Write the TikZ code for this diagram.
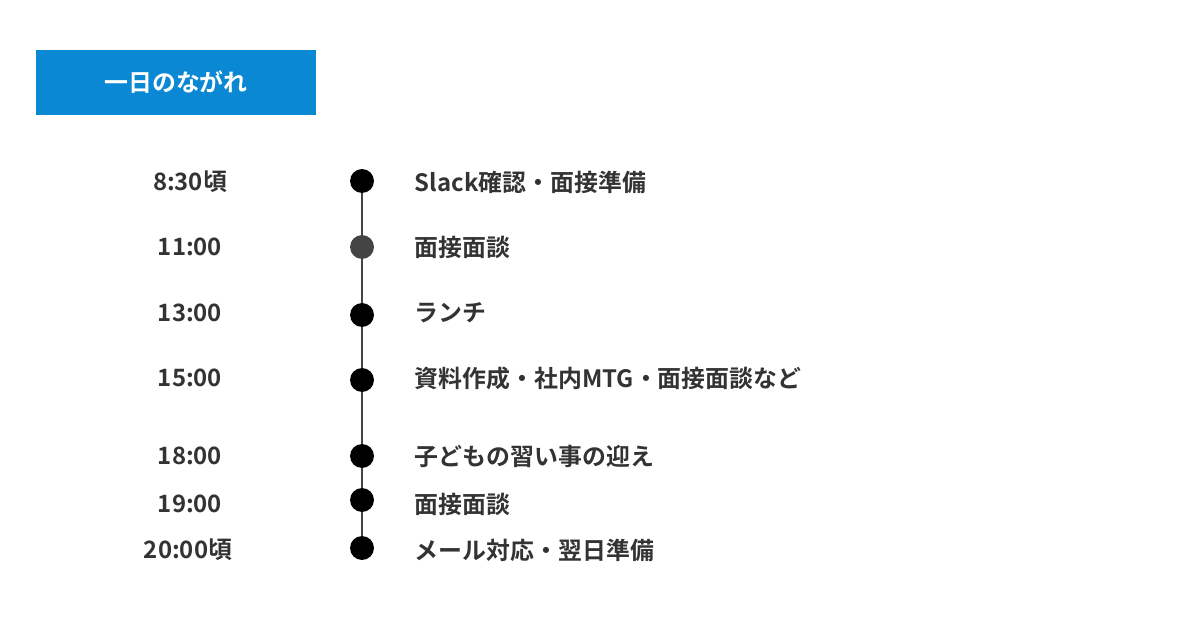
\documentclass[tikz,border=0pt]{standalone}
\usepackage{fontspec}
\setmainfont{Noto Sans CJK JP}[BoldFont={* Bold}]
\usepackage{tikz}
\usetikzlibrary{arrows}
\definecolor{headblue}{HTML}{0A88D4}
\definecolor{ink}{HTML}{333333}
\definecolor{dotgray}{HTML}{444444}
\tikzset{
	time/.style={text=ink, font=\fontsize{17}{20}\selectfont\bfseries},
	task/.style={text=ink, anchor=west, font=\fontsize{17}{20}\selectfont\bfseries},
	dot/.style={circle, fill=black, minimum size=17pt, inner sep=0pt}
}
\begin{document}
\begin{tikzpicture}[x=0.025cm, y=-0.025cm]
		\useasboundingbox (0,0) rectangle (1200,628);
		\node (head) [fill=headblue, text=white, minimum width=280*0.025cm, minimum height=65*0.025cm, font=\fontsize{17}{20}\selectfont\bfseries] at (176,82.5) {一日のながれ};
	
		\node (T1) [time] at (190,182) {8:30頃};
		\node (T2) [time] at (190,247) {11:00};
		\node (T3) [time] at (190,313) {13:00};
		\node (T4) [time] at (190,378) {15:00};
		\node (T5) [time] at (190,456) {18:00};
		\node (T6) [time] at (190,504) {19:00};
		\node (T7) [time] at (188,550) {20:00頃};
		\node (D1) [dot] at (362,181) {};
		\node (D2) [dot, fill=dotgray] at (362,247) {};
		\node (D3) [dot] at (362,315) {};
		\node (D4) [dot] at (362,380) {};
		\node (D5) [dot] at (362,456) {};
		\node (D6) [dot] at (362,500) {};
		\node (D7) [dot] at (362,548) {};
		\node (L1) [task] at (410,182) {Slack確認・面接準備};
		\node (L2) [task] at (410,247) {面接面談};
		\node (L3) [task] at (410,313) {ランチ};
		\node (L4) [task] at (410,378) {資料作成・社内MTG・面接面談など};
		\node (L5) [task] at (410,456) {子どもの習い事の迎え};
		\node (L6) [task] at (410,504) {面接面談};
		\node (L7) [task] at (410,550) {メール対応・翌日準備};
		
		\begin{scope}[on background layer/.style={}]
		\draw [line width=2pt, color=dotgray] (D1) -- (D2);
		\draw [line width=2pt, color=dotgray] (D2) -- (D3);
		\draw [line width=2pt, color=dotgray] (D3) -- (D4);
		\draw [line width=2pt, color=dotgray] (D4) -- (D5);
		\draw [line width=2pt, color=dotgray] (D5) -- (D6);
		\draw [line width=2pt, color=dotgray] (D6) -- (D7);
		\end{scope}
	\end{tikzpicture}
\end{document}
